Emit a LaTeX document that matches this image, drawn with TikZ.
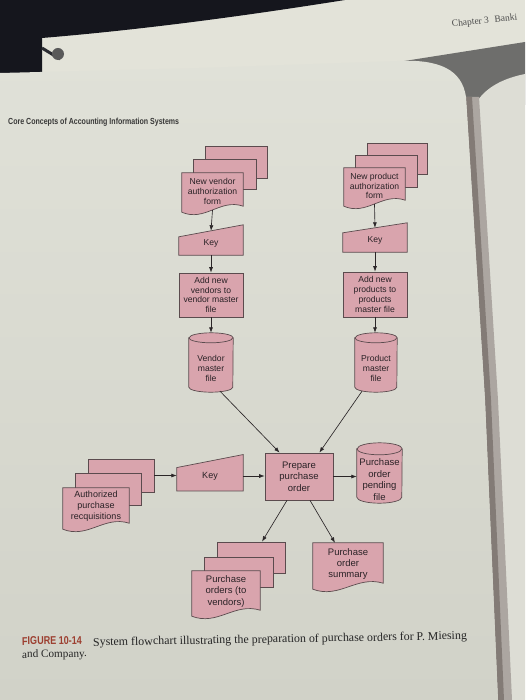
\documentclass[tikz,border=0pt]{standalone}
\usepackage{fontspec}
\setmainfont{Liberation Serif}
\setsansfont{Liberation Sans}
\newfontfamily\hdrfont[FakeStretch=0.8]{Liberation Sans}
\usetikzlibrary{arrows.meta,calc}
\definecolor{pinkf}{HTML}{D9A4AD}
\definecolor{edgec}{HTML}{5B4B4E}
\definecolor{linec}{HTML}{2B2628}
\definecolor{textc}{HTML}{2A2226}
\definecolor{pagetop}{HTML}{E0E1D8}
\definecolor{pagebot}{HTML}{D1D2C8}
\definecolor{upperc}{HTML}{E3E3D9}
\definecolor{darkc}{HTML}{15161D}
\definecolor{shadowc}{HTML}{6E6E6C}
\definecolor{rightc}{HTML}{DDDDD5}
\definecolor{stripa}{HTML}{837B76}
\definecolor{stripb}{HTML}{ACA6A1}
\definecolor{figc}{HTML}{9C3D2E}
\newcommand\docshape[1]{\filldraw[shp] (#1.north west) -- (#1.north east) -- ($(#1.south east)+(0,-4)$) .. controls ($(#1.south)!0.25!(#1.south east)+(0,-12)$) and ($(#1.south)!0.25!(#1.south west)+(0,12)$) .. ($(#1.south west)+(0,2)$) -- cycle;}
\newcommand\cylshape[3]{\filldraw[shp] ($(#1.north west)+(0,#3)$) -- ($(#1.south west)+(0,-#3)$) arc[start angle=180,end angle=360,x radius=#2pt,y radius=#3pt] -- ($(#1.north east)+(0,#3)$) arc[start angle=0,end angle=180,x radius=#2pt,y radius=#3pt] -- cycle;
 \draw[shp,fill=none] ($(#1.north west)+(0,#3)$) arc[start angle=180,end angle=360,x radius=#2pt,y radius=#3pt];}
\newcommand\kbdshape[2]{\filldraw[shp] ($(#1.north west)+(0,#2)$) -- ($(#1.north east)+(0,-#2)$) -- (#1.south east) -- (#1.south west) -- cycle;}
\begin{document}
\begin{tikzpicture}[x=1pt,y=-1pt,
  shp/.style={fill=pinkf,draw=edgec,line width=0.7pt},
  slot/.style={inner sep=0pt,minimum width=#1},
  paper/.style={shp,inner sep=0pt},
  tx/.style={font=\sffamily\fontsize{8.6}{9.8}\selectfont,text=textc,align=center,inner sep=0pt},
  txm/.style={tx,font=\sffamily\fontsize{9}{11}\selectfont},
  txb/.style={tx,font=\sffamily\fontsize{9.5}{11.4}\selectfont},
  arr/.style={draw=linec,line width=0.65pt,-{Latex[length=5.5pt,width=4pt]}}]
\useasboundingbox (0,0) rectangle (525,700);
\clip (0,0) rectangle (525,700);
% ---------- photographed page background ----------
\fill[upperc] (0,0) rectangle (525,700);
\fill[darkc] (0,0) -- (345,0) .. controls (250,15) and (150,29) .. (42,38) -- (42,73) -- (0,73) -- cycle;
\fill[shadowc] (398,62) -- (525,42) -- (525,105) -- (455,105) -- cycle;
\fill[rightc] (478,100) .. controls (488,86) and (505,78) .. (525,74) -- (525,700) -- (510,700) -- cycle;
\fill[stripb] (466,97) -- (485,400) -- (498,700) -- (512,700) -- (498,400) -- (479,97) -- cycle;
\fill[stripa] (466,97) -- (485,400) -- (498,700) -- (504,700) -- (491,400) -- (472,97) -- cycle;
\shade[top color=pagetop,bottom color=pagebot] (0,73) -- (200,68) -- (398,61) .. controls (440,59) and (462,70) .. (466,97) -- (485,400) -- (498,700) -- (0,700) -- cycle;
\draw[line width=3pt,darkc!80!gray] (42,48) -- (60,59);
\fill[gray!70!black] (58,54) circle[radius=6pt];
\node[font=\fontsize{9.5}{10}\selectfont,text=black!70,anchor=base west,rotate=6,inner sep=0pt] (chap) at (452,27) {Chapter 3\hspace{0.6em}Banki};
% ---------- header ----------
\node[font=\hdrfont\bfseries\fontsize{8.8}{10}\selectfont,text=black!78,anchor=base west,inner sep=0pt] (hdr) at (8,125) {Core Concepts of Accounting Information Systems};
% ---------- vendor column ----------
\node[paper,minimum width=62pt,minimum height=32pt] (va3) at (236,162) {};
\node[paper,minimum width=63pt,minimum height=30pt] (va2) at (224.5,174) {};
\path node[slot=61pt,minimum height=37pt] (vf) at (212.5,191.5) {};
\docshape{vf}
\node[tx] (vft) at (vf) {New vendor\\authorization\\form};
\path node[slot=64pt,minimum height=24pt] (vk) at (211,243) {};
\kbdshape{vk}{6}
\node[tx] (vkt) at (vk) {Key};
\node[shp,tx,minimum width=64pt,minimum height=44pt] (vp) at (211,295) {Add new\\vendors to\\vendor master\\file};
\path node[slot=44pt,minimum height=59pt] (vm) at (211,362.5) {};
\cylshape{vm}{22}{5}
\node[tx] (vmt) at ($(vm)+(0,6)$) {Vendor\\master\\file};
% ---------- product column ----------
\node[paper,minimum width=60pt,minimum height=31pt] (pa3) at (397,158.5) {};
\node[paper,minimum width=62pt,minimum height=32pt] (pa2) at (386,171) {};
\path node[slot=61pt,minimum height=36pt] (pf) at (374.5,186) {};
\docshape{pf}
\node[tx] (pft) at (pf) {New product\\authorization\\form};
\path node[slot=64pt,minimum height=24pt] (pk) at (375,240) {};
\kbdshape{pk}{5}
\node[tx] (pkt) at (pk) {Key};
\node[shp,tx,minimum width=64pt,minimum height=45pt] (pp) at (375,294.5) {Add new\\products to\\products\\master file};
\path node[slot=42pt,minimum height=59pt] (pm) at (376,362.5) {};
\cylshape{pm}{21}{5}
\node[tx] (pmt) at ($(pm)+(0,6)$) {Product\\master\\file};
% ---------- middle row ----------
\node[paper,minimum width=66pt,minimum height=33pt] (ar3) at (121,475.5) {};
\node[paper,minimum width=66pt,minimum height=32pt] (ar2) at (108,489) {};
\path node[slot=66pt,minimum height=39pt] (ar) at (96,507.5) {};
\docshape{ar}
\node[txm] (art) at ($(ar)+(0,-1.5)$) {Authorized\\purchase\\recquisitions};
\path node[slot=66pt,minimum height=29.5pt] (kk) at (210,476) {};
\kbdshape{kk}{6.5}
\node[txm] (kkt) at (kk) {Key};
\node[shp,txb,minimum width=68pt,minimum height=47pt] (pr) at (299,476.5) {Prepare\\purchase\\order};
\path node[slot=45pt,minimum height=60pt] (pc) at (379.5,473) {};
\cylshape{pc}{22.5}{6}
\node[txb] (pct) at ($(pc)+(0,6.5)$) {Purchase\\order\\pending\\file};
% ---------- bottom row ----------
\node[paper,minimum width=68pt,minimum height=31pt] (po3) at (251,557.5) {};
\node[paper,minimum width=69pt,minimum height=30pt] (po2) at (238.5,572) {};
\path node[slot=68pt,minimum height=43pt] (po) at (226,592.5) {};
\docshape{po}
\node[txb] (pot) at ($(po)+(0,-1)$) {Purchase\\orders (to\\vendors)};
\path node[slot=70pt,minimum height=44pt] (ps) at (348,565) {};
\docshape{ps}
\node[txb] (pst) at ($(ps)+(0,-1)$) {Purchase\\order\\summary};
% ---------- connectors ----------
\draw[arr] (vf.south) -- (vk.north);
\draw[arr] (vk.south) -- (vp.north);
\draw[arr] (vp.south) -- (vm.north);
\draw[arr] (pf.south) -- (pk.north);
\draw[arr] (pk.south) -- (pp.north);
\draw[arr] (pp.south) -- (pp.south |- pm.north);
\draw[arr] ($(vm.south)+(9,-1)$) -- ($(pr.north west)+(15,0)$);
\draw[arr] ($(pm.south)+(-14,-1)$) -- ($(pr.north east)+(-14,0)$);
\draw[arr] (ar3.east) -- (ar3.east -| kk.west);
\draw[arr] (kk.east) -- (kk.east -| pr.west);
\draw[arr] (pr.east) -- (pr.east -| pc.west);
\draw[arr] ($(pr.south)+(-12,0)$) -- ($(po3.north)+(11,0)$);
\draw[arr] ($(pr.south)+(11,0)$) -- ($(ps.north)+(-13,0)$);
% ---------- caption ----------
\node[font=\hdrfont\bfseries\fontsize{11.3}{13}\selectfont,text=figc,anchor=base west,inner sep=0pt,rotate=1] (figno) at (22,645) {FIGURE 10-14};
\node[font=\fontsize{11.9}{13}\selectfont,text=black!85,anchor=base west,inner sep=0pt,rotate=1] (cap1) at (93,646) {System flowchart illustrating the preparation of purchase orders for P. Miesing};
\node[font=\fontsize{11.2}{13}\selectfont,text=black!85,anchor=base west,inner sep=0pt,rotate=1] (cap2) at (22,658) {and Company.};
\end{tikzpicture}
\end{document}
